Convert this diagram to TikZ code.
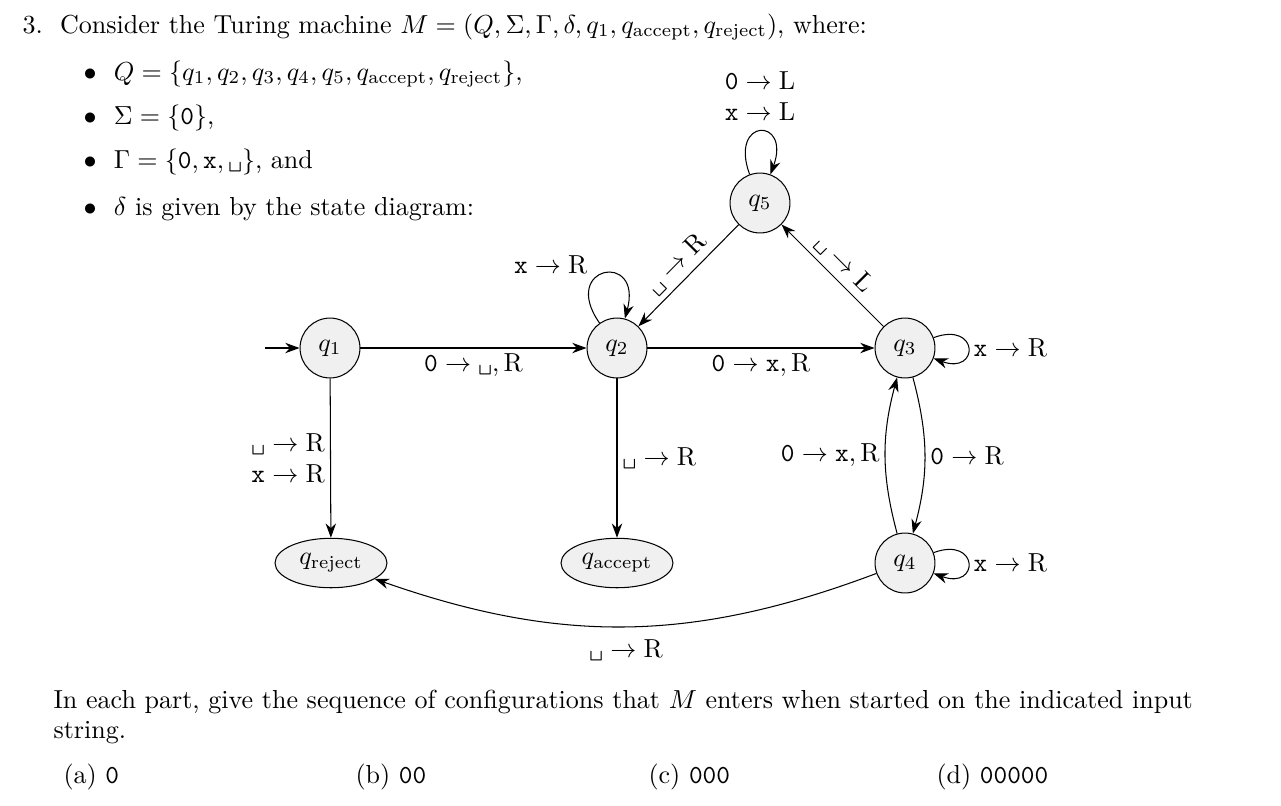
\documentclass[tikz,border=0pt]{standalone}
\usepackage{fontspec}
\usetikzlibrary{arrows.meta,shapes.geometric}
\newcommand{\blk}{\texttt{\textvisiblespace}}
\begin{document}
\begin{tikzpicture}[x=0.384pt,y=-0.384pt,
  st/.style={circle,draw,fill=black!6,minimum size=23pt,inner sep=0pt},
  el/.style={ellipse,draw,fill=black!6,minimum width=43pt,minimum height=19pt,inner sep=1pt},
  tx/.style={anchor=base west,inner sep=0pt},
  tr/.style={->,>={Stealth[length=5.5pt,width=4pt]},thin},
  lb/.style={inner sep=2pt}]
\useasboundingbox (0,0) rectangle (1281,805);
\node[tx] (h) at (22,33) {3.\ \ Consider the Turing machine $M=(Q,\Sigma,\Gamma,\delta,q_1,q_{\mathrm{accept}},q_{\mathrm{reject}})$, where:};
\node[tx] (b1) at (83,80) {$\bullet$\ \ $Q=\{q_1,q_2,q_3,q_4,q_5,q_{\mathrm{accept}},q_{\mathrm{reject}}\}$,};
\node[tx] (b2) at (83,124) {$\bullet$\ \ $\Sigma=\{\texttt{0}\}$,};
\node[tx] (b3) at (83,168) {$\bullet$\ \ $\Gamma=\{\texttt{0},\texttt{x},\blk\}$, and};
\node[tx] (b4) at (83,215) {$\bullet$\ \ $\delta$ is given by the state diagram:};
\node[tx] (p1) at (53,708) {In each part, give the sequence of configurations that $M$ enters when started on the indicated input};
\node[tx] (p2) at (53,738) {string.};
\node[tx] (a) at (63,783) {(a)\ \texttt{0}};
\node[tx] (bb) at (355,783) {(b)\ \texttt{00}};
\node[tx] (c) at (648,783) {(c)\ \texttt{000}};
\node[tx] (d) at (936,783) {(d)\ \texttt{00000}};

\node[st] (q1) at (330,348) {$q_1$};
\node[st] (q2) at (617,348) {$q_2$};
\node[st] (q3) at (905,348) {$q_3$};
\node[st] (q5) at (760,203) {$q_5$};
\node[st] (q4) at (905,563) {$q_4$};
\node[el] (qr) at (331,563) {$q_{\mathrm{reject}}$};
\node[el] (qa) at (617,563) {$q_{\mathrm{accept}}$};
\coordinate (s) at (265,348);

\draw[tr] (s) -- (q1);
\draw[tr] (q1) -- node[lb,below] {$\texttt{0}\rightarrow\blk,\mathrm{R}$} (q2);
\draw[tr] (q2) -- node[lb,below] {$\texttt{0}\rightarrow\texttt{x},\mathrm{R}$} (q3);
\draw[tr] (q2) edge[loop above,looseness=7,out=125,in=75] node[lb,above left,pos=0.35] {$\texttt{x}\rightarrow\mathrm{R}$} (q2);
\draw[tr] (q5) edge[loop above,looseness=7.5,out=110,in=70] node[lb,above,align=center,yshift=2pt] {$\texttt{0}\rightarrow\mathrm{L}$\\$\texttt{x}\rightarrow\mathrm{L}$} (q5);
\draw[tr] (q3) edge[loop right,looseness=6,out=20,in=-20] node[lb,right] {$\texttt{x}\rightarrow\mathrm{R}$} (q3);
\draw[tr] (q4) edge[loop right,looseness=6,out=20,in=-20] node[lb,right] {$\texttt{x}\rightarrow\mathrm{R}$} (q4);
\draw[tr] (q5) -- node[lb,above,sloped] {$\blk\rightarrow\mathrm{R}$} (q2);
\draw[tr] (q3) -- node[lb,above,sloped] {$\blk\rightarrow\mathrm{L}$} (q5);
\draw[tr] (q1) -- node[lb,left,align=center] {$\blk\rightarrow\mathrm{R}$\\$\texttt{x}\rightarrow\mathrm{R}$} (qr);
\draw[tr] (q2) -- node[lb,right] {$\blk\rightarrow\mathrm{R}$} (qa);
\draw[tr] (q3) to[bend left=15] node[lb,right] {$\texttt{0}\rightarrow\mathrm{R}$} (q4);
\draw[tr] (q4) to[bend left=15] node[lb,left] {$\texttt{0}\rightarrow\texttt{x},\mathrm{R}$} (q3);
\draw[tr] (q4) to[bend left=20] node[lb,below,yshift=-3pt] {$\blk\rightarrow\mathrm{R}$} (qr);
\end{tikzpicture}
\end{document}
